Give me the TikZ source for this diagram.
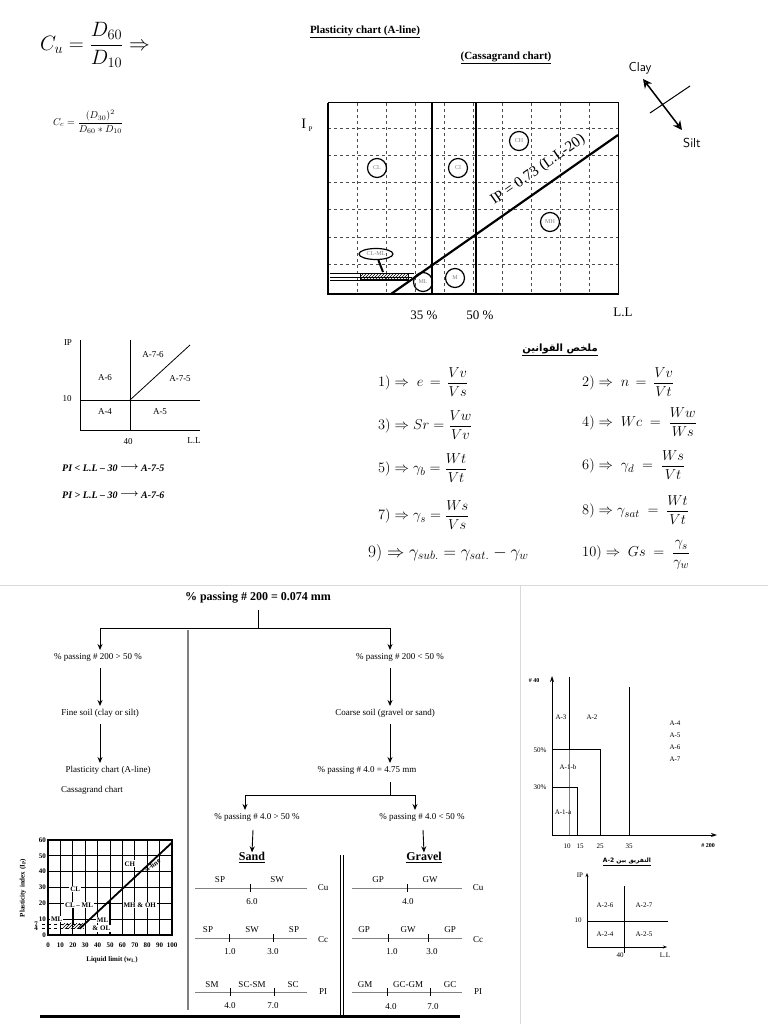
\documentclass[tikz,border=0pt]{standalone}
\usepackage{fontspec}
\usepackage{amsmath}
\setmainfont{Liberation Serif}
\newfontfamily\arabicfont[Script=Arabic]{DejaVu Sans}
\TeXXeTstate=1
\usetikzlibrary{patterns,arrows.meta,shapes.geometric}
\begin{document}
\begin{tikzpicture}[x=1pt,y=-1pt,
  lbl/.style={inner sep=0pt,font=\fontsize{11}{12}\selectfont},
  sm/.style={inner sep=0pt,font=\fontsize{9}{10}\selectfont},
  tiny/.style={inner sep=0pt,font=\fontsize{7}{8}\selectfont\bfseries},
  eq/.style={inner sep=0pt,anchor=west,font=\fontsize{15}{16}\selectfont},
  arr/.style={-{Stealth[length=6pt,width=5pt]},line width=0.9pt},
  thk/.style={line width=2.2pt},
  grd/.style={dashed,line width=0.6pt,gray!60!black},
  circ/.style={draw,circle,line width=1.2pt,minimum size=19pt,inner sep=0pt,font=\fontsize{6}{7}\selectfont,text=gray}]
\useasboundingbox (0,0) rectangle (768,1024);
% ---------- top formulas
\node[inner sep=0pt,font=\fontsize{20}{22}\selectfont] (cu) at (95,45) {$C_u=\dfrac{D_{60}}{D_{10}}\Rightarrow$};
\node[inner sep=0pt,font=\fontsize{10}{11}\selectfont] (cc) at (88,122) {$C_c=\dfrac{(D_{30})^2}{D_{60}*D_{10}}$};
% ---------- Casagrande chart
\node[inner sep=0pt,font=\bfseries\fontsize{11}{12}\selectfont] (t1) at (365,32) {\underline{Plasticity chart (A-line)}};
\node[inner sep=0pt,font=\bfseries\fontsize{11}{12}\selectfont] (t2) at (506,58) {\underline{(Cassagrand chart)}};
\foreach \i in {1,...,9} \draw[grd] (328+29*\i,103) -- (328+29*\i,294);
\foreach \y in {128,155,182,209,237,264} \draw[grd] (328,\y) -- (618,\y);
\draw[line width=1pt] (328,103) rectangle (618,294);
\draw[thk] (328,103) -- (328,294) -- (618,294);
\draw[thk] (432,103) -- (432,294);
\draw[thk] (476,103) -- (476,294);
\draw[line width=0.5pt] (330,273) -- (414,273) (330,277) -- (412,277) (330,280) -- (409,280);
\path[pattern=north east lines] (360,273) rectangle (408,279);
\draw[line width=0.5pt] (360,273) rectangle (408,279);
\coordinate (a1) at (391,294); \coordinate (a2) at (618,135);
\draw[thk] (a1) -- (a2);
\node[inner sep=0pt,rotate=35,font=\fontsize{15}{16}\selectfont] (ipl) at (538,170) {IP = 0.73 (L.L-20)};
\node[inner sep=0pt,font=\Large] (ip) at (307,125) {I\,\raisebox{-3pt}{\scriptsize P}};
\node[circ] (cl) at (377,168) {CL};
\node[circ] (ci) at (458,168) {CI};
\node[circ] (ch) at (519,141) {CH};
\node[circ] (mh) at (550,222) {MH};
\node[circ] (ml) at (423,282) {ML};
\node[circ] (mm) at (455,278) {M};
\node[draw,ellipse,line width=1.2pt,minimum width=34pt,minimum height=11pt,inner sep=0pt,font=\fontsize{6}{7}\selectfont,text=gray] (clml) at (376,254) {CL-ML};
\draw[line width=2pt] (clml) -- (383,272);
\node[lbl,font=\fontsize{13}{14}\selectfont] (p35) at (424,315) {35 \%};
\node[lbl,font=\fontsize{13}{14}\selectfont] (p50) at (480,315) {50 \%};
\node[lbl,font=\fontsize{13}{14}\selectfont] (ll) at (623,312) {L.L};
% Clay / Silt
\node[inner sep=0pt,font=\sffamily\fontsize{13}{14}\selectfont] (clay) at (640,68) {Clay};
\node[inner sep=0pt,font=\sffamily\fontsize{13}{14}\selectfont] (silt) at (692,143) {Silt};
\coordinate (c1) at (643,79); \coordinate (c2) at (682,130);
\draw[{Stealth[length=9pt,width=9pt,open]}-{Stealth[length=9pt,width=9pt,open]},line width=1.5pt] (c1) -- (c2);
\draw[line width=1pt] (650,113) -- (690,86);
% ---------- A-7 chart
\draw[line width=0.8pt] (80,340) -- (80,430) -- (200,430);
\draw[line width=0.8pt] (130,340) -- (130,430);
\draw[line width=0.8pt] (80,400) -- (200,400);
\draw[line width=0.8pt] (130,400) -- (190,345);
\node[sm] (ipa) at (68,343) {IP};
\node[sm] (ten) at (67,399) {10};
\node[sm] (forty) at (128,442) {40};
\node[sm] (lla) at (194,441) {L.L};
\node[sm] (a76) at (153,355) {A-7-6};
\node[sm] (a75) at (180,379) {A-7-5};
\node[sm] (a6) at (105,378) {A-6};
\node[sm] (a4) at (105,412) {A-4};
\node[sm] (a5) at (160,412) {A-5};
\node[inner sep=0pt,anchor=west,font=\bfseries\itshape\fontsize{10}{11}\selectfont] (r1) at (62,468) {PI < L.L -- 30 \raisebox{2pt}{$\boldsymbol{\longrightarrow}$} A-7-5};
\node[inner sep=0pt,anchor=west,font=\bfseries\itshape\fontsize{10}{11}\selectfont] (r2) at (62,495) {PI > L.L -- 30 \raisebox{2pt}{$\boldsymbol{\longrightarrow}$} A-7-6};
% ---------- formulas
\node[inner sep=0pt,font=\arabicfont\bfseries\fontsize{10}{11}\selectfont] (qt) at (560,350) {\underline{\beginR ملخص القوانين\endR}};
\node[eq] (f1) at (378,382) {$1)\Rightarrow\ e\,=\,\dfrac{Vv}{Vs}$};
\node[eq] (f2) at (582,382) {$2)\Rightarrow\ n\,=\,\dfrac{Vv}{Vt}$};
\node[eq] (f3) at (378,425) {$3)\Rightarrow Sr=\dfrac{Vw}{Vv}$};
\node[eq] (f4) at (582,422) {$4)\Rightarrow\ Wc\ =\ \dfrac{Ww}{Ws}$};
\node[eq] (f5) at (378,468) {$5)\Rightarrow\gamma_b=\dfrac{Wt}{Vt}$};
\node[eq] (f6) at (582,465) {$6)\Rightarrow\ \gamma_d\ =\ \dfrac{Ws}{Vt}$};
\node[eq] (f7) at (378,515) {$7)\Rightarrow\gamma_s=\dfrac{Ws}{Vs}$};
\node[eq] (f8) at (582,510) {$8)\Rightarrow\gamma_{sat}\ =\ \dfrac{Wt}{Vt}$};
\node[eq,font=\fontsize{17}{18}\selectfont] (f9) at (368,553) {$9)\Rightarrow\gamma_{sub.}=\gamma_{sat.}-\gamma_w$};
\node[eq] (f10) at (582,555) {$10)\Rightarrow\ Gs\ =\ \dfrac{\gamma_s}{\gamma_w}$};
% separators
\draw[gray!30,line width=0.8pt] (0,585) -- (768,585);
\draw[gray!30,line width=0.8pt] (520,585) -- (520,1024);
% ---------- flowchart
\node[inner sep=0pt,font=\bfseries\fontsize{12}{13}\selectfont] (top) at (258,598) {\% passing \# 200 = 0.074 mm};
\coordinate (j1) at (258,628);
\draw[line width=0.9pt] (258,610) -- (j1);
\draw[line width=0.9pt] (100,628) -- (390,628);
\node[sm] (fine) at (98,657) {\% passing \# 200 > 50 \%};
\node[sm] (coarse) at (400,657) {\% passing \# 200 < 50 \%};
\draw[arr] (100,628) -- (100,650);
\draw[arr] (390,628) -- (390,650);
\node[sm] (fs) at (100,713) {Fine soil (clay or silt)};
\node[sm] (pc) at (108,770) {Plasticity chart (A-line)};
\node[sm] (cg) at (92,790) {Cassagrand chart};
\coordinate (pcn) at (100,763);
\draw[arr] (100,668) -- (100,706);
\draw[arr] (100,724) -- (pcn);
\node[sm] (cs) at (385,713) {Coarse soil (gravel or sand)};
\node[sm] (p4) at (367,770) {\% passing \# 4.0 = 4.75 mm};
\draw[arr] (390,668) -- (390,706);
\draw[arr] (390,724) -- (390,763);
\draw[line width=0.9pt] (390,782) -- (390,795);
\draw[line width=0.9pt] (245,795) -- (415,795);
\draw[arr] (245,795) -- (245,810);
\draw[arr] (415,795) -- (415,810);
\node[sm] (ps) at (257,817) {\% passing \# 4.0 > 50 \%};
\node[sm] (pg) at (422,817) {\% passing \# 4.0 < 50 \%};
\node[inner sep=0pt,font=\bfseries\fontsize{12}{13}\selectfont] (sand) at (252,858) {\underline{Sand}};
\node[inner sep=0pt,font=\bfseries\fontsize{12}{13}\selectfont] (grav) at (424,858) {\underline{Gravel}};
\draw[arr] (253,830) -- (sand.north);
\draw[arr] (423,830) -- (grav.north);
\draw[gray,line width=2.5pt] (188,630) -- (188,1010);
\draw[line width=0.8pt] (340,855) -- (340,1015) (343.5,855) -- (343.5,1015);
% sand rows
\draw[gray] (195,888) -- (307,888); \draw (250,884) -- (250,892);
\node[sm] at (220,880) {SP}; \node[sm] at (277,880) {SW}; \node[sm] at (252,902) {6.0}; \node[sm] at (323,888) {Cu};
\draw[gray] (195,938) -- (307,938); \draw (229,934) -- (229,942); \draw (273,934) -- (273,942);
\node[sm] at (208,930) {SP}; \node[sm] at (252,930) {SW}; \node[sm] at (294,930) {SP};
\node[sm] at (230,952) {1.0}; \node[sm] at (273,952) {3.0}; \node[sm] at (323,940) {Cc};
\draw[gray] (195,992) -- (307,992); \draw (230,988) -- (230,996); \draw (274,988) -- (274,996);
\node[sm] at (212,985) {SM}; \node[sm] at (252,985) {SC-SM}; \node[sm] at (293,985) {SC};
\node[sm] at (230,1006) {4.0}; \node[sm] at (273,1006) {7.0}; \node[sm] at (323,992) {PI};
% gravel rows
\draw[gray] (352,888) -- (462,888); \draw (407,884) -- (407,892);
\node[sm] at (378,880) {GP}; \node[sm] at (430,880) {GW}; \node[sm] at (408,902) {4.0}; \node[sm] at (478,888) {Cu};
\draw[gray] (352,938) -- (462,938); \draw (388,934) -- (388,942); \draw (428,934) -- (428,942);
\node[sm] at (364,930) {GP}; \node[sm] at (408,930) {GW}; \node[sm] at (450,930) {GP};
\node[sm] at (392,952) {1.0}; \node[sm] at (432,952) {3.0}; \node[sm] at (478,940) {Cc};
\draw[gray] (352,992) -- (462,992); \draw (387,988) -- (387,996); \draw (430,988) -- (430,996);
\node[sm] at (365,985) {GM}; \node[sm] at (408,985) {GC-GM}; \node[sm] at (450,985) {GC};
\node[sm] at (391,1007) {4.0}; \node[sm] at (433,1007) {7.0}; \node[sm] at (478,992) {PI};
\draw[line width=3pt] (40,1016) -- (460,1016);
% ---------- small plasticity chart
\begin{scope}[shift={(48,935)},x=1.24pt,y=1.583pt]
 \foreach \i in {10,20,...,90} \draw[line width=0.8pt] (\i,0) -- (\i,60);
 \foreach \j in {10,20,...,50} \draw[line width=0.8pt] (0,\j) -- (100,\j);
 \draw[line width=1.2pt] (0,0) rectangle (100,60);
 \draw[line width=1.2pt] (50,0) -- (50,22);
 \draw[dashed] (-5,7) -- (29.6,7) (-5,4) -- (25.5,4);
 \path[pattern=north east lines] (12,4) rectangle (29,7);
 \draw[line width=1.8pt] (25.5,4) -- (100,58.4);
 \foreach \i in {0,10,...,100} \node[tiny] at (\i,-6.5) {\i};
 \foreach \j in {0,10,...,60} \node[tiny,anchor=east] at (-1.5,\j) {\j};
 \node[tiny,anchor=east] at (-8,7) {7};
 \node[tiny,anchor=east] at (-8,4) {4};
 \node[tiny,fill=white,inner sep=1pt] at (66,45) {CH};
 \node[tiny,fill=white,inner sep=1pt] at (22,29) {CL};
 \node[tiny,fill=white,inner sep=1pt] at (25,19) {CL -- ML};
 \node[tiny,fill=white,inner sep=1pt] at (74,19) {MH \& OH};
 \node[tiny,fill=white,inner sep=1pt] at (7,10) {ML};
 \node[tiny,fill=white,inner sep=1pt] at (44,9.5) {ML};
 \node[tiny,fill=white,inner sep=1pt] at (43,4) {\& OL};
 \node[tiny,rotate=36] at (84,44) {A-line};
 \draw[-{Stealth[length=3pt]}] (20,17) -- (20,6);
\end{scope}
\node[tiny,rotate=90] (pix) at (23,888) {Plasticity index (I\textsubscript{P})};
\node[tiny] (llx) at (112,960) {Liquid limit (w\textsubscript{L})};
% ---------- A-classification chart
\draw[-{Stealth[length=6pt,width=4pt]},line width=0.9pt] (552,835) -- (552,676);
\draw[-{Stealth[length=6pt,width=4pt]},line width=0.9pt] (552,835) -- (717,835);
\draw[line width=0.9pt] (569,677) -- (569,749);
\draw[gray,line width=0.4pt] (569,749) -- (569,835);
\draw[line width=0.7pt] (552,749) -- (600,749) -- (600,835);
\draw[line width=0.7pt] (552,787) -- (577,787) -- (577,835);
\draw[line width=0.7pt] (629,687) -- (629,835);
\node[tiny,font=\bfseries\fontsize{6}{7}\selectfont] at (534,681) {\# 40};
\node[tiny,font=\bfseries\fontsize{6}{7}\selectfont] at (708,846) {\# 200};
\foreach \t/\x/\y in {A-3/561/717,A-2/592/717,A-4/675/723,A-5/675/735,A-6/675/747,A-7/675/759,A-1-b/568/767,A-1-a/563/812} \node[inner sep=0pt,font=\fontsize{7}{8}\selectfont] at (\x,\y) {\t};
\foreach \t/\x/\y in {50\%/540/750,30\%/540/787,10/567/846,15/580/846,25/600/846,35/629/846} \node[inner sep=0pt,font=\fontsize{7}{8}\selectfont] at (\x,\y) {\t};
\node[inner sep=0pt,font=\arabicfont\bfseries\fontsize{6}{7}\selectfont] (a2t) at (627,862) {\underline{\beginR التفريق بين \beginL A-2\endL\endR}};
\draw[-{Stealth[length=4pt,width=3pt]},line width=0.6pt] (587,947) -- (587,873);
\draw[-{Stealth[length=4pt,width=3pt]},line width=0.6pt] (587,947) -- (667,947);
\draw[line width=0.6pt] (587,921) -- (668,921);
\draw[line width=0.6pt] (624,886) -- (624,953);
\foreach \t/\x/\y in {IP/580/875,10/578/920,40/620/955,L.L/665/955,A-2-6/605/905,A-2-7/644/905,A-2-4/605/934,A-2-5/644/934} \node[inner sep=0pt,font=\fontsize{7}{8}\selectfont] at (\x,\y) {\t};
\end{tikzpicture}
\end{document}
